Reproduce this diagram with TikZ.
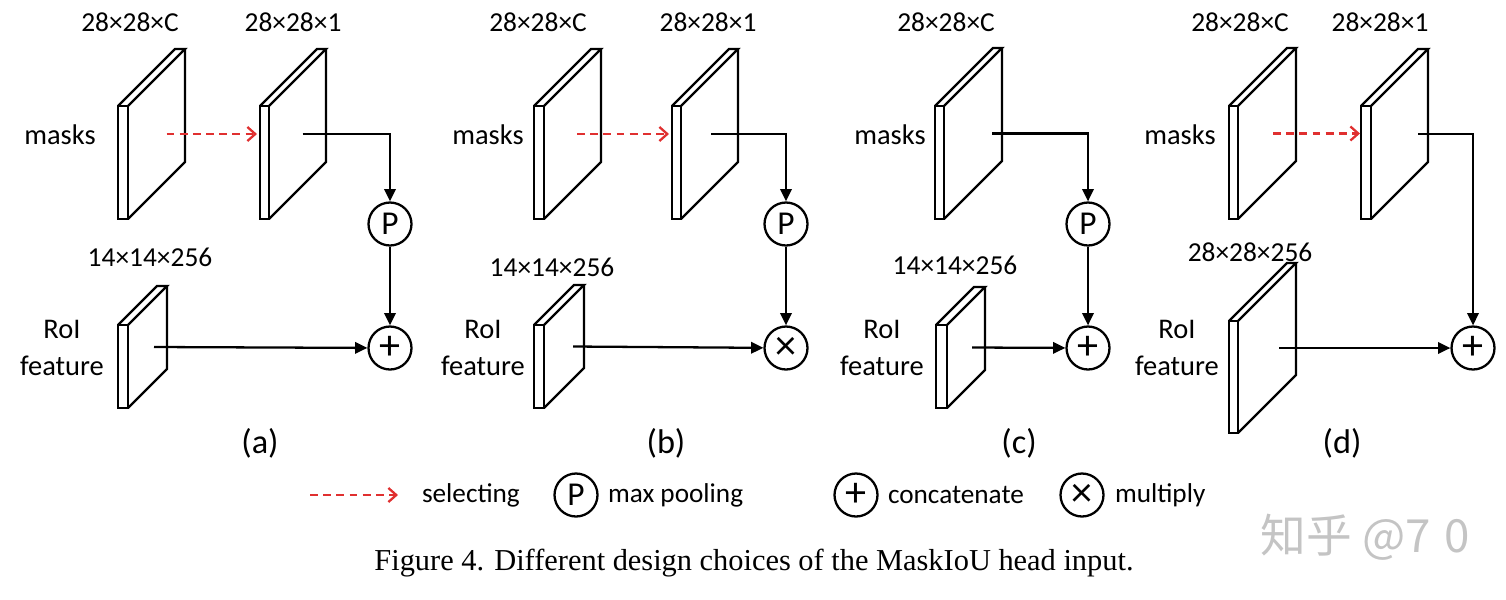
\documentclass[tikz,border=0pt]{standalone}
\usepackage{fontspec}
\setmainfont{Carlito}
\newfontfamily\capfont{Liberation Serif}
\newfontfamily\cjkfont{Noto Sans CJK SC}
\usetikzlibrary{arrows.meta, positioning, calc}
\definecolor{selred}{HTML}{E03030}
\definecolor{wmgray}{HTML}{C4C4C4}

\begin{document}
\begin{tikzpicture}[
    x=0.02cm, y=-0.02cm, line width=1.3pt,
    dim/.style={font=\fontsize{15.6}{18}\selectfont},
    side/.style={font=\fontsize{16.2}{21}\selectfont, align=center},
    tag/.style={font=\fontsize{19.5}{22}\selectfont},
    op/.style={circle, draw, minimum size=0.86cm, inner sep=0pt, font=\fontsize{19}{22}\selectfont},
    sym/.style={op, font=\fontsize{24}{24}\selectfont},
    key/.style={font=\fontsize{15.5}{18}\selectfont, anchor=west},
    arrow/.style={-{Triangle[length=7pt, width=6.5pt]}},
    select/.style={-{Straight Barb[length=4.5pt, width=8pt]}, draw=selred, dash pattern=on 4.5pt off 3pt},
    pics/slab/.style n args={3}{code={
        \draw[fill=white] (0,0) rectangle (#1,#2);
        \draw (0,0) -- (#3,-#3) -- (#1+#3,-#3) -- (#1,0);
        \draw (#1+#3,-#3) -- (#1+#3,#2-#3) -- (#1,#2);
        \coordinate (-c) at (#1+#3/2,#2/2-#3/2);
        \coordinate (-l) at (0,#2/2);
    }}
]
\useasboundingbox (0,0) rectangle (1506,599);

% (a)
\pic (ma1) at (118,106) {slab={10}{113}{57}};
\pic (ma2) at (260,106) {slab={9}{113}{57}};
\pic (ra) at (118,325) {slab={10}{83}{39}};
\node[dim] (ma1dim) at (130,22) {28×28×C};
\node[dim] (ma2dim) at (293,22) {28×28×1};
\node[dim] (radim) at (150,257) {14×14×256};
\node[side] (malbl) at (60,135) {masks};
\node[side] (ralbl) at (62,348) {RoI\\feature};
\node[op] (pa) at (390,224) {P};
\node[sym] (ca) at (390,348) {+};
\node[tag] (taga) at (260,443) {(a)};
\draw[select] ([xshift=0.2cm]ma1-c) -- ([xshift=-0.06cm]ma1-c -| ma2-l);
\draw[arrow] ([xshift=0.1cm]ma2-c) -| (pa);
\draw[arrow] (pa) -- (ca);
\draw[arrow] ([xshift=0.13cm]ra-c) -- (ca);

% (b)
\pic (mb1) at (534,106) {slab={10}{113}{57}};
\pic (mb2) at (672,106) {slab={9}{113}{57}};
\pic (rb) at (534,325) {slab={10}{83}{40}};
\node[dim] (mb1dim) at (538,22) {28×28×C};
\node[dim] (mb2dim) at (708,22) {28×28×1};
\node[dim] (rbdim) at (552,267) {14×14×256};
\node[side] (mblbl) at (488,135) {masks};
\node[side] (rblbl) at (483,348) {RoI\\feature};
\node[op] (pb) at (786,224) {P};
\node[sym] (xb) at (786,348) {×};
\node[tag] (tagb) at (666,443) {(b)};
\draw[select] ([xshift=0.09cm]mb1-c) -- ([xshift=-0.06cm]mb1-c -| mb2-l);
\draw[arrow] ([xshift=0.03cm]mb2-c) -| (pb);
\draw[arrow] (pb) -- (xb);
\draw[arrow] ([xshift=0.18cm]rb-c) -- (xb);

% (c)
\pic (mc1) at (935,106) {slab={9}{113}{58}};
\pic (rc) at (936,325) {slab={11}{83}{38}};
\node[dim] (mc1dim) at (946,22) {28×28×C};
\node[dim] (rcdim) at (955,265) {14×14×256};
\node[side] (mclbl) at (890,135) {masks};
\node[side] (rclbl) at (882,348) {RoI\\feature};
\node[op] (pc) at (1088,224) {P};
\node[sym] (cc) at (1088,348) {+};
\node[tag] (tagc) at (1019,443) {(c)};
\draw[arrow] ([xshift=0.38cm]mc1-c) -| (pc);
\draw[arrow] (pc) -- (cc);
\draw[arrow] ([xshift=0.12cm]rc-c) -- (cc);

% (d)
\pic (md1) at (1229,106) {slab={9}{113}{58}};
\pic (md2) at (1361,106) {slab={10}{113}{57}};
\pic (rd) at (1229,321) {slab={9}{112}{58}};
\node[dim] (md1dim) at (1240,22) {28×28×C};
\node[dim] (md2dim) at (1380,22) {28×28×1};
\node[dim] (rddim) at (1250,252) {28×28×256};
\node[side] (mdlbl) at (1180,135) {masks};
\node[side] (rdlbl) at (1177,348) {RoI\\feature};
\node[sym] (cd) at (1473,348) {+};
\node[tag] (tagd) at (1342,443) {(d)};
\draw[select] ([xshift=0.12cm]md1-c) -- ([xshift=-0.02cm]md1-c -| md2-l);
\draw[arrow] ([xshift=0.37cm]md2-c) -| (cd);
\draw[arrow] ([xshift=0.24cm]rd-c) -- (cd);

% legend
\coordinate (ks) at (310,495);
\coordinate (ke) at (398,495);
\draw[select] (ks) -- (ke);
\node[key] (kstxt) at (415,495) {selecting};
\node[op] (kp) at (576,495) {P};
\node[key] (kptxt) at (601,495) {max pooling};
\node[sym] (kc) at (856,495) {+};
\node[key] (kctxt) at (881,495) {concatenate};
\node[sym] (kx) at (1082,495) {×};
\node[key] (kxtxt) at (1108,495) {multiply};

\node[font=\capfont\fontsize{17.3}{20}\selectfont] (caption) at (754,563) {Figure 4. Different design choices of the MaskIoU head input.};
\node[font=\cjkfont\fontsize{26}{28}\selectfont, text=wmgray] (mark) at (1365,537) {知乎 @7\hspace{0.3em}0};
\end{tikzpicture}
\end{document}
